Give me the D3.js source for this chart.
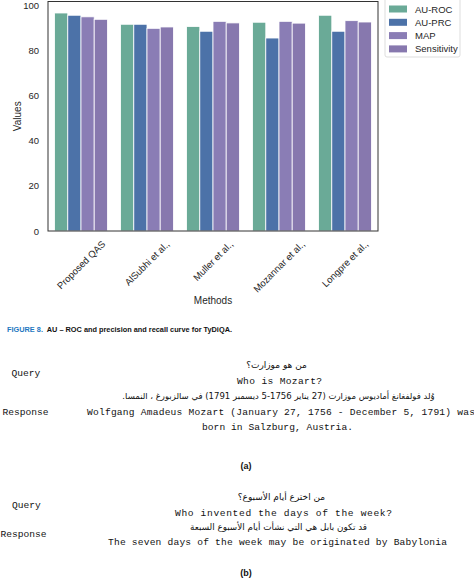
<!DOCTYPE html>
<html>
<head>
<meta charset="utf-8">
<script src="https://cdn.jsdelivr.net/npm/d3@7"></script>
<style>
  html, body { margin: 0; padding: 0; background: #fff; }
  svg { display: block; }
  .sans { font-family: "Liberation Sans", Arial, sans-serif; }
  .mono { font-family: "Liberation Mono", "DejaVu Sans Mono", monospace; fill: #111; }
  .arabic { font-family: "DejaVu Sans", sans-serif; fill: #111; }
</style>
</head>
<body>
<svg id="chart" width="474" height="579"></svg>
<script>
var methods = ['Proposed QAS', 'AlSubhi et al.,', 'Muller et al.,', 'Mozannar et al.,', 'Longpre et al.,'];
var series = ['AU-ROC', 'AU-PRC', 'MAP', 'Sensitivity'];
var auRoc = [96.7, 91.7, 90.7, 92.6, 95.7];
var auPrc = [95.7, 91.7, 88.6, 85.6, 88.6];
var map = [95.0, 89.9, 93.0, 93.0, 93.3];
var sensitivity = [93.9, 90.5, 92.3, 92.2, 92.7];
var yTicks = [0, 20, 40, 60, 80, 100];
var colors = ['#6aaa97', '#4c72a8', '#8a7db5', '#8778ae'];

var seriesValues = [auRoc, auPrc, map, sensitivity];

var svg = d3.select('#chart');

var plot = { left: 48, right: 378, top: 1.5, bottom: 231 };

var x0 = d3.scaleBand()
    .domain(methods)
    .range([plot.left, plot.right])
    .paddingInner(0.2)
    .paddingOuter(0.1);

var x1 = d3.scaleBand()
    .domain(series)
    .range([0, x0.bandwidth()]);

var y = d3.scaleLinear()
    .domain([0, 101.8])
    .range([plot.bottom, plot.top]);

var color = d3.scaleOrdinal().domain(series).range(colors);

// bars
var groups = svg.append('g')
    .selectAll('g.method')
    .data(methods)
    .join('g')
    .classed('method', true)
    .attr('transform', function(d) { return 'translate(' + x0(d) + ',0)'; });

groups.selectAll('rect')
    .data(function(d, i) {
        return series.map(function(s, j) {
            return { series: s, value: seriesValues[j][i] };
        });
    })
    .join('rect')
    .attr('x', function(d) { return x1(d.series); })
    .attr('width', x1.bandwidth())
    .attr('y', function(d) { return y(d.value); })
    .attr('height', function(d) { return y(0) - y(d.value); })
    .attr('fill', function(d) { return color(d.series); })
    .attr('stroke', '#fff')
    .attr('stroke-width', 0.8);

// frame
svg.append('rect')
    .attr('x', plot.left)
    .attr('y', plot.top)
    .attr('width', plot.right - plot.left)
    .attr('height', plot.bottom - plot.top)
    .attr('fill', 'none')
    .attr('stroke', '#333')
    .attr('stroke-width', 1);

// y axis
var yAxis = svg.append('g')
    .attr('transform', 'translate(' + plot.left + ',0)')
    .call(d3.axisLeft(y).tickValues(yTicks).tickSize(0).tickPadding(9));
yAxis.select('.domain').remove();
yAxis.selectAll('text')
    .attr('class', 'sans')
    .attr('font-size', 9.5)
    .attr('fill', '#262626');

svg.append('text')
    .attr('class', 'sans')
    .attr('transform', 'translate(17,' + ((plot.top + plot.bottom) / 2) + ') rotate(-90)')
    .attr('text-anchor', 'middle')
    .attr('dominant-baseline', 'central')
    .attr('font-size', 10)
    .attr('fill', '#262626')
    .text('Values');

// x tick labels, rotated 45 degrees, box centred on the group
var xLabels = svg.append('g').selectAll('text')
    .data(methods)
    .join('text')
    .attr('class', 'sans')
    .attr('font-size', 9.5)
    .attr('fill', '#262626')
    .attr('text-anchor', 'middle')
    .attr('dominant-baseline', 'central')
    .text(function(d) { return d; });

xLabels.attr('transform', function(d) {
    var w = this.getComputedTextLength();
    var h = (w + 9.5) * Math.SQRT1_2;
    var cx = x0(d) + x0.bandwidth() / 2;
    var cy = plot.bottom + 8 + h / 2;
    return 'translate(' + cx + ',' + cy + ') rotate(-45)';
});

svg.append('text')
    .attr('class', 'sans')
    .attr('x', (plot.left + plot.right) / 2)
    .attr('y', 300)
    .attr('text-anchor', 'middle')
    .attr('dominant-baseline', 'central')
    .attr('font-size', 10)
    .attr('fill', '#262626')
    .text('Methods');

// legend
var legend = svg.append('g').attr('transform', 'translate(385,0)');
legend.append('rect')
    .attr('x', 0)
    .attr('y', -2)
    .attr('width', 75)
    .attr('height', 59)
    .attr('rx', 2)
    .attr('fill', '#fff')
    .attr('stroke', '#ddd');

var legendItems = legend.selectAll('g.item')
    .data(series)
    .join('g')
    .classed('item', true)
    .attr('transform', function(d, i) { return 'translate(0,' + (9 + i * 13.3) + ')'; });

legendItems.append('rect')
    .attr('x', 4)
    .attr('y', -3.5)
    .attr('width', 18)
    .attr('height', 7)
    .attr('fill', function(d) { return color(d); });

legendItems.append('text')
    .attr('class', 'sans')
    .attr('x', 30)
    .attr('dominant-baseline', 'central')
    .attr('font-size', 9.5)
    .attr('fill', '#262626')
    .text(function(d) { return d; });

// caption
var caption = svg.append('text')
    .attr('class', 'sans')
    .attr('x', 7)
    .attr('y', 329)
    .attr('dominant-baseline', 'central')
    .attr('font-weight', 'bold')
    .attr('font-size', 7)
    .attr('textLength', 225)
    .attr('lengthAdjust', 'spacingAndGlyphs');
caption.append('tspan').attr('fill', '#1f78c1').text('FIGURE 8.');
caption.append('tspan').attr('fill', '#111').text('\u00a0 AU \u2013 ROC and precision and recall curve for TyDiQA.');

// examples (a) and (b)
function monoLine(txt, xPos, yPos, width) {
    var t = svg.append('text')
        .attr('class', 'mono')
        .attr('x', xPos)
        .attr('y', yPos)
        .attr('text-anchor', 'middle')
        .attr('dominant-baseline', 'central')
        .attr('font-size', 9.6)
        .text(txt);
    if (width) {
        t.attr('textLength', width).attr('lengthAdjust', 'spacing');
    }
}

function arabicLine(txt, xPos, yPos, size) {
    svg.append('text')
        .attr('class', 'arabic')
        .attr('x', xPos)
        .attr('y', yPos)
        .attr('text-anchor', 'middle')
        .attr('dominant-baseline', 'central')
        .attr('direction', 'rtl')
        .attr('unicode-bidi', 'plaintext')
        .attr('font-size', size)
        .text(txt);
}

monoLine('Query', 26, 373);
arabicLine('من هو موزارت؟', 276.5, 365, 9);
monoLine('Who is Mozart?', 279.5, 381, 85);
arabicLine('وُلد فولفغانغ أماديوس موزارت (27 يناير 1756-5 ديسمبر 1791) في سالزبورغ ، النمسا.', 278.5, 396, 8.5);
monoLine('Response', 25.5, 412);
monoLine('Wolfgang Amadeus Mozart (January 27, 1756 - December 5, 1791) was', 281, 412, 388);
monoLine('born in Salzburg, Austria.', 277.5, 427, 151);

svg.append('text')
    .attr('class', 'sans')
    .attr('x', 246)
    .attr('y', 466)
    .attr('text-anchor', 'middle')
    .attr('dominant-baseline', 'central')
    .attr('font-size', 9)
    .attr('font-weight', 'bold')
    .attr('fill', '#111')
    .text('(a)');

monoLine('Query', 26.5, 505);
arabicLine('من اخترع أيام الأسبوع؟', 281.5, 497, 9);
monoLine('Who invented the days of the week?', 283.5, 513, 217);
arabicLine('قد تكون بابل هي التي نشأت أيام الأسبوع السبعة', 278.5, 527, 8.8);
monoLine('Response', 23.5, 534);
monoLine('The seven days of the week may be originated by Babylonia', 277.5, 542, 339);

svg.append('text')
    .attr('class', 'sans')
    .attr('x', 246)
    .attr('y', 573)
    .attr('text-anchor', 'middle')
    .attr('dominant-baseline', 'central')
    .attr('font-size', 9)
    .attr('font-weight', 'bold')
    .attr('fill', '#111')
    .text('(b)');
</script>
</body>
</html>
